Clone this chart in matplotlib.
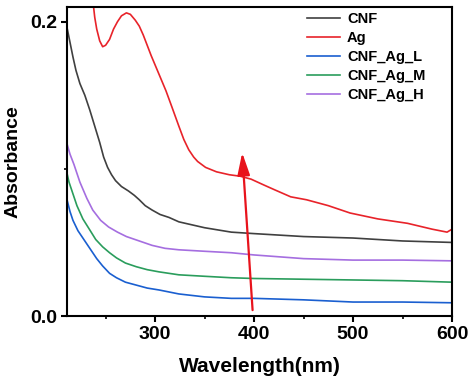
import matplotlib
matplotlib.use("Agg")
from matplotlib import pyplot as plt
import matplotlib.ticker as mtick

plt.rcParams['font.family'] = ['Liberation Sans', 'DejaVu Sans']
plt.rcParams['font.weight'] = 'bold'

# wavelength (nm) / absorbance
cnf_wl = [211, 214, 217, 220, 224, 229, 234, 239, 244, 248, 252, 256, 260, 266, 273, 279, 284,
          290, 297, 305, 314, 324, 337, 350, 377, 400, 450, 500, 550, 600]
cnf_abs = [0.196, 0.186, 0.176, 0.167, 0.158, 0.150, 0.140, 0.129, 0.118, 0.108, 0.101, 0.096,
           0.092, 0.088, 0.085, 0.082, 0.079, 0.075, 0.072, 0.069, 0.067, 0.064, 0.062, 0.060,
           0.057, 0.056, 0.054, 0.053, 0.051, 0.050]

ag_wl = [237, 239, 241, 244, 247, 250, 254, 258, 262, 266, 271, 275, 280, 284, 288, 292, 296,
         301, 306, 311, 317, 324, 329, 334, 339, 343, 351, 362, 375, 386, 397, 410, 420, 437,
         453, 475, 497, 525, 555, 580, 595, 600]
ag_abs = [0.215, 0.203, 0.195, 0.187, 0.183, 0.184, 0.188, 0.195, 0.200, 0.204, 0.206, 0.205,
          0.201, 0.197, 0.191, 0.184, 0.177, 0.169, 0.161, 0.153, 0.142, 0.129, 0.120, 0.113,
          0.108, 0.105, 0.101, 0.098, 0.096, 0.095, 0.093, 0.089, 0.086, 0.081, 0.079, 0.075,
          0.070, 0.066, 0.063, 0.059, 0.057, 0.059]

l_wl = [211, 214, 217, 222, 228, 234, 241, 247, 254, 261, 270, 281, 292, 304, 324, 350, 377,
        400, 450, 500, 550, 600]
l_abs = [0.079, 0.071, 0.065, 0.058, 0.052, 0.046, 0.039, 0.034, 0.029, 0.026, 0.023, 0.021,
         0.019, 0.0177, 0.015, 0.013, 0.012, 0.012, 0.011, 0.0095, 0.0095, 0.009]

m_wl = [211, 213, 216, 221, 227, 234, 240, 247, 254, 261, 270, 281, 292, 304, 324, 350, 377,
        400, 450, 500, 550, 600]
m_abs = [0.097, 0.091, 0.085, 0.075, 0.066, 0.0585, 0.052, 0.047, 0.043, 0.0395, 0.036, 0.0335,
         0.0315, 0.030, 0.028, 0.027, 0.026, 0.0255, 0.025, 0.0245, 0.024, 0.023]

h_wl = [211, 214, 218, 224, 231, 237, 245, 253, 262, 271, 284, 297, 310, 324, 350, 377, 400,
        450, 500, 550, 600]
h_abs = [0.117, 0.110, 0.103, 0.091, 0.080, 0.072, 0.065, 0.0605, 0.057, 0.054, 0.051, 0.048,
         0.046, 0.045, 0.044, 0.043, 0.0415, 0.039, 0.038, 0.038, 0.0375]

series = [
    ("CNF", cnf_wl, cnf_abs, "#404040"),
    ("Ag", ag_wl, ag_abs, "#e8232a"),
    ("CNF_Ag_L", l_wl, l_abs, "#1a5fd0"),
    ("CNF_Ag_M", m_wl, m_abs, "#2a9d5c"),
    ("CNF_Ag_H", h_wl, h_abs, "#a56ee0"),
]

fig = plt.figure(figsize=(4.74, 3.86), dpi=100)
ax = fig.add_axes([0.1414, 0.1813, 0.8122, 0.8006])

for name, wl, ab, col in series:
    ax.plot(wl, ab, color=col, lw=1.2, label=name)

# trend arrow
ax.annotate("", xy=(388, 0.111), xytext=(398.5, 0.004),
            arrowprops=dict(arrowstyle="-|>,head_length=0.9,head_width=0.25",
                            color="#e8131c", lw=1.6, mutation_scale=15,
                            shrinkA=0, shrinkB=0))

ax.set_xlim(211, 600)
ax.set_ylim(0, 0.21)
ax.xaxis.set_major_locator(mtick.MultipleLocator(100))
ax.xaxis.set_minor_locator(mtick.MultipleLocator(50))
ax.yaxis.set_major_locator(mtick.MultipleLocator(0.2))
ax.yaxis.set_minor_locator(mtick.MultipleLocator(0.1))
ax.yaxis.set_major_formatter(mtick.FormatStrFormatter('%.1f'))

for s in ax.spines.values():
    s.set_linewidth(1.5)
ax.tick_params(which='major', direction='out', length=4, width=1.5, labelsize=14, pad=3)
ax.tick_params(which='minor', direction='out', length=2.5, width=1.2)

ax.set_xlabel("Wavelength(nm)", fontsize=15, fontweight='bold', labelpad=10)
ax.set_ylabel("Absorbance", fontsize=14, fontweight='bold', labelpad=6)

ax.legend(loc='upper left', bbox_to_anchor=(0.623, 0.985), frameon=False,
          borderaxespad=0, borderpad=0, handlelength=2.25, handletextpad=0.5,
          labelspacing=0.35, prop={'size': 10.5, 'weight': 'bold'})

plt.savefig("out.png", dpi=100)
